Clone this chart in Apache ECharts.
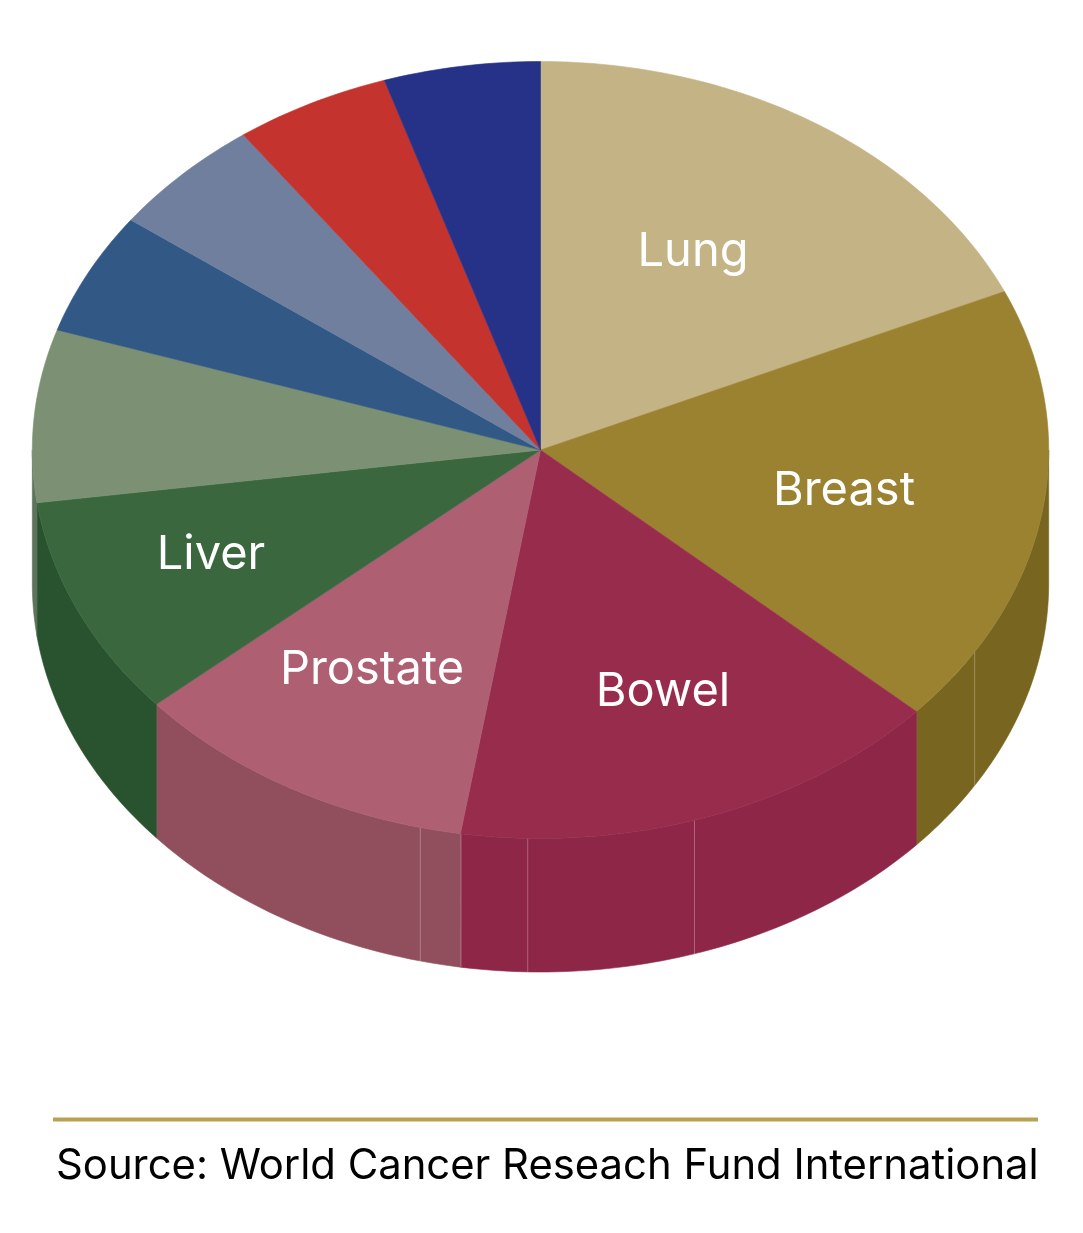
<!DOCTYPE html>
<html>
<head>
<meta charset="utf-8">
<style>html,body{margin:0;padding:0;background:#fff}#c{width:1083px;height:1233px}</style>
<script src="https://cdn.jsdelivr.net/npm/echarts@6/dist/echarts.min.js"></script>
</head>
<body>
<div id="c"></div>
<script>
const categories = ['Lung','Breast','Bowel','Prostate','Liver','Stomach','Oesophagus','Cervix','Thyroid','Bladder'];
const shownLabels = ['Lung','Breast','Bowel','Prostate','Liver','','','','',''];
const values = [18.31,18.44,15.77,11.12,9.19,7.17,5.08,4.98,4.97,4.97];
const topColors = ['#c4b485','#9b8230','#982c4d','#ae5f72','#3b673e','#7c9173','#325885','#717f9f','#c4332d','#263287'];
const sideColors = ['#8f8360','#78651f','#8e2747','#914f5d','#29532e','#5d735c','#25405f','#525c73','#8e2520','#1b2462'];
const sideSeams = [33.7,45.1,50.4,52.5,53.8];
const sourceText = 'Source: World Cancer Reseach Fund International';

const CX=540.5, CY=450, RX=508.2, RY=388.5, DEPTH=133.5;
const labelPos = [[693,252],[844,491],[663,692],[372,670],[211,555]];
const total = values.reduce((a,b)=>a+b,0);
let run = 0;
const slices = values.map((v,i)=>{const s=run; run+=v; return [s/total*360, run/total*360, i];});
const seamData = sideSeams.map(p=>[p/100*360]);
const pt=(deg,dy)=>{const a=deg*Math.PI/180;return [CX+RX*Math.sin(a),CY-RY*Math.cos(a)+(dy||0)];};
const arc=(a0,a1,dy)=>{const out=[];const n=Math.max(2,Math.ceil(Math.abs(a1-a0)));for(let k=0;k<=n;k++)out.push(pt(a0+(a1-a0)*k/n,dy));return out;};

const chart = echarts.init(document.getElementById('c'),null,{renderer:'canvas'});
chart.setOption({
  backgroundColor:'#ffffff',
  animation:false,
  graphic:[
    {type:'rect',shape:{x:53,y:1117.5,width:985,height:4},style:{fill:'#b9a154'}},
    {type:'text',x:56,y:1166,style:{text:sourceText,fontFamily:'Inter',fontSize:41.8,fill:'#000',textVerticalAlign:'middle',textAlign:'left'}}
  ],
  series:[
    {type:'custom',name:'side',coordinateSystem:'none',silent:true,data:slices,
     renderItem(params,api){
       const i=api.value(2);
       const a0=Math.max(api.value(0),90), a1=Math.min(api.value(1),270);
       if(a1<=a0) return {type:'group',children:[]};
       const pts=arc(a0,a1,0).concat(arc(a1,a0,DEPTH));
       return {type:'polygon',shape:{points:pts},style:{fill:sideColors[i],stroke:sideColors[i],lineWidth:0.6}};
     }},
    {type:'custom',name:'seams',coordinateSystem:'none',silent:true,data:seamData,
     renderItem(params,api){
       const a=api.value(0);
       return {type:'line',shape:{x1:pt(a,0)[0],y1:pt(a,0)[1],x2:pt(a,DEPTH)[0],y2:pt(a,DEPTH)[1]},style:{stroke:'rgba(255,255,255,0.28)',lineWidth:1}};
     }},
    {type:'custom',name:'top',coordinateSystem:'none',silent:true,data:slices,
     renderItem(params,api){
       const i=api.value(2);
       const pts=arc(api.value(0),api.value(1),0).concat([[CX,CY]]);
       return {type:'polygon',shape:{points:pts},style:{fill:topColors[i],stroke:topColors[i],lineWidth:0.6}};
     }},
    {type:'custom',name:'labels',coordinateSystem:'none',silent:true,data:slices,
     renderItem(params,api){
       const i=api.value(2);
       if(!shownLabels[i]) return {type:'group',children:[]};
       return {type:'text',x:labelPos[i][0],y:labelPos[i][1],style:{text:shownLabels[i],fontFamily:'Inter',fontSize:47,fill:'#fff',textAlign:'center',textVerticalAlign:'middle'}};
     }}
  ]
});
</script>
</body>
</html>
